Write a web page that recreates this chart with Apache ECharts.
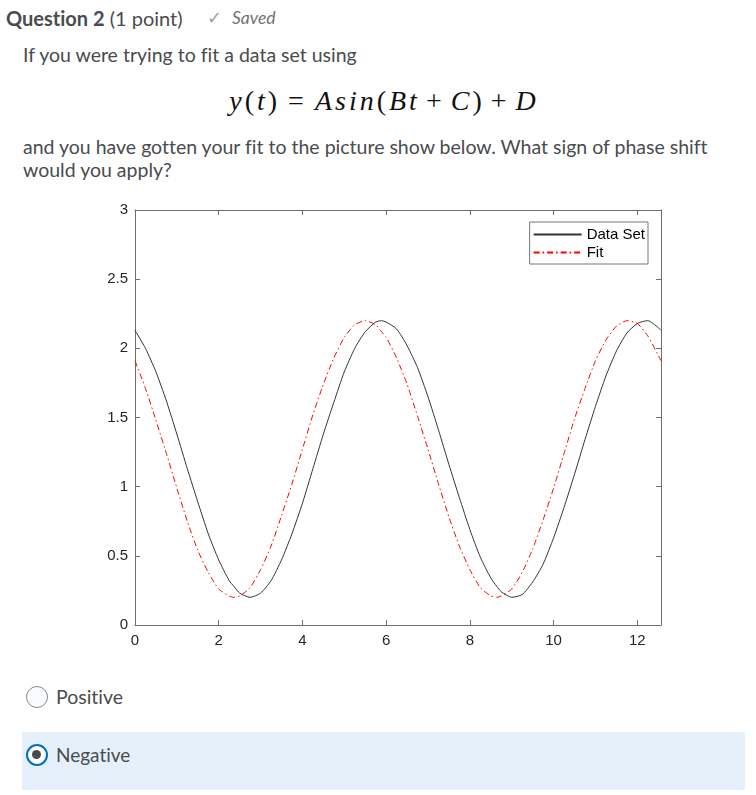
<!DOCTYPE html>
<html>
<head>
<meta charset="utf-8">
<script src="https://cdn.jsdelivr.net/npm/echarts@6/dist/echarts.min.js"></script>
<style>
  html, body { margin: 0; padding: 0; background: #fff; }
  body { width: 756px; height: 795px; position: relative; overflow: hidden; font-family: Lato, "Noto Sans", sans-serif; color: #494c4e; font-variant-ligatures: none; }
  .abs { position: absolute; white-space: nowrap; }
  #title { left: 6px; top: 5px; font-size: 20px; line-height: 26px; color: #494c4e; }
  #title b { font-weight: 700; }
  #saved { left: 207px; top: 7px; font-size: 17.5px; line-height: 22px; color: #6e7376; font-style: italic; }
  #saved .chk { font-style: normal; color: #9ea2a5; margin-right: 10px; }
  #q1 { left: 23px; top: 43px; font-size: 19.5px; line-height: 24px; }
  #eq { left: 0; width: 768px; text-align: center; top: 85px; font-size: 28px; line-height: 32px; font-family: "Liberation Serif", "DejaVu Serif", serif; color: #111; letter-spacing: 3px; }
  #eq i { font-style: italic; }
  #eq .eqop { margin: 0 8px; }
  #eq .plus { margin: 0 6px; }
  #q2 { left: 23px; top: 135px; font-size: 19.5px; line-height: 23px; }
  #chart { position: absolute; left: 60px; top: 190px; width: 640px; height: 480px; }
  .radio { position: absolute; width: 22px; height: 22px; border-radius: 50%; box-sizing: border-box; }
  #r1 { left: 26px; top: 686px; border: 1.5px solid #868a8d; background: #f9fbff; }
  #band { position: absolute; left: 22px; top: 732px; width: 723px; height: 58px; background: #e6f0fb; }
  #r2 { left: 26px; top: 744px; border: 2.5px solid #006fbf; background: #fff; }
  #r2::after { content: ""; position: absolute; left: 4px; top: 4px; width: 9px; height: 9px; border-radius: 50%; background: #494c4e; }
  .opt { font-size: 19.5px; line-height: 24px; color: #494c4e; }
  #o1 { left: 56px; top: 685px; }
  #o2 { left: 56px; top: 743px; font-size: 19px; }
</style>
</head>
<body>
<div id="title" class="abs"><b>Question 2</b> (1 point)</div>
<div id="saved" class="abs"><span class="chk">✓</span>Saved</div>
<div id="q1" class="abs">If you were trying to fit a data set using</div>
<div id="eq" class="abs"><i>y</i>(<i>t</i>)<span class="eqop">=</span><i>Asin</i>(<i>Bt</i><span class="plus">+</span><i>C</i>)<span class="plus">+</span><i>D</i></div>
<div id="q2" class="abs">and you have gotten your fit to the picture show below. What sign of phase shift<br>would you apply?</div>
<div id="chart"></div>
<div class="radio" id="r1"></div>
<div id="o1" class="abs opt">Positive</div>
<div id="band"></div>
<div class="radio" id="r2"></div>
<div id="o2" class="abs opt">Negative</div>
<script>
// sample times (t) read along the x axis
const tValues = [0, 0.25, 0.5, 0.75, 1, 1.25, 1.5, 1.75, 2, 2.25, 2.36, 2.5, 2.75, 3, 3.25, 3.5, 3.75,
  4, 4.25, 4.5, 4.75, 5, 5.25, 5.5, 5.75, 5.89, 6, 6.25, 6.5, 6.75, 7, 7.25, 7.5, 7.75,
  8, 8.25, 8.5, 8.64, 8.75, 9, 9.25, 9.5, 9.75, 10, 10.25, 10.5, 10.75, 11, 11.25, 11.5, 11.75,
  12, 12.25, 12.5, 12.566];
// black solid curve ("Data Set")
const dataSetValues = [2.13, 2.00, 1.83, 1.62, 1.38, 1.13, 0.89, 0.66, 0.47, 0.32, 0.28, 0.23, 0.20, 0.23, 0.32, 0.47, 0.66,
  0.88, 1.13, 1.38, 1.61, 1.83, 2.00, 2.12, 2.19, 2.20, 2.19, 2.14, 2.02, 1.86, 1.65, 1.41, 1.16, 0.92,
  0.69, 0.49, 0.34, 0.28, 0.24, 0.20, 0.22, 0.31, 0.44, 0.63, 0.85, 1.09, 1.34, 1.58, 1.80, 1.98, 2.11,
  2.18, 2.20, 2.15, 2.13];
// red dash-dot curve ("Fit")
const fitValues = [1.91, 1.71, 1.48, 1.24, 0.99, 0.75, 0.54, 0.38, 0.26, 0.21, 0.20, 0.21, 0.27, 0.40, 0.57, 0.79, 1.02,
  1.27, 1.52, 1.74, 1.93, 2.08, 2.17, 2.20, 2.17, 2.12, 2.08, 1.93, 1.74, 1.51, 1.27, 1.02, 0.78, 0.57,
  0.40, 0.27, 0.21, 0.20, 0.21, 0.26, 0.38, 0.55, 0.76, 0.99, 1.24, 1.49, 1.71, 1.91, 2.06, 2.16, 2.20,
  2.18, 2.09, 1.95, 1.91];
const xTicks = [0, 2, 4, 6, 8, 10, 12];
const yTicks = [0, 0.5, 1, 1.5, 2, 2.5, 3];
const seriesNames = ['Data Set', 'Fit'];

const xMax = 12.566;
const axisColor = '#6e6e6e';
const labelFont = { color: '#262626', fontSize: 15, fontFamily: 'Liberation Sans, Arial, sans-serif' };

const chart = echarts.init(document.getElementById('chart'), null, { renderer: 'canvas' });
const xFmt = v => (xTicks.some(t => Math.abs(t - v) < 1e-6) ? String(v) : '');
const yFmt = v => (yTicks.some(t => Math.abs(t - v) < 1e-6) ? String(v) : '');
const frameAxis = (extra) => Object.assign({
  type: 'value',
  axisLine: { show: true, onZero: false, lineStyle: { color: axisColor, width: 1 } },
  axisTick: { show: true, inside: true, length: 5, lineStyle: { color: axisColor } },
  splitLine: { show: false }
}, extra);

chart.setOption({
  animation: false,
  grid: { left: 75, top: 20, width: 526, height: 415, containLabel: false },
  legend: {
    orient: 'vertical',
    right: 52, top: 32,
    data: seriesNames,
    itemWidth: 48, itemHeight: 12, itemGap: 3,
    padding: [5, 3, 4, 3],
    borderColor: '#777777', borderWidth: 1,
    backgroundColor: '#fff',
    itemStyle: { opacity: 0, borderWidth: 0 },
    textStyle: Object.assign({}, labelFont, { color: '#000' })
  },
  xAxis: [
    frameAxis({ min: 0, max: xMax, interval: 2, position: 'bottom',
      axisLabel: Object.assign({ margin: 8, formatter: xFmt }, labelFont) }),
    frameAxis({ min: 0, max: xMax, interval: 2, position: 'top', axisLabel: { show: false } })
  ],
  yAxis: [
    frameAxis({ min: 0, max: 3, interval: 0.5, position: 'left',
      axisLabel: Object.assign({ margin: 7, formatter: yFmt }, labelFont) }),
    frameAxis({ min: 0, max: 3, interval: 0.5, position: 'right', axisLabel: { show: false } })
  ],
  series: [
    { name: seriesNames[0], type: 'line', smooth: 0.2, symbol: 'none',
      data: tValues.map((t, i) => [t, dataSetValues[i]]),
      lineStyle: { color: '#333333', width: 1, type: 'solid' },
      itemStyle: { color: '#333333' } },
    { name: seriesNames[1], type: 'line', smooth: 0.2, symbol: 'none',
      data: tValues.map((t, i) => [t, fitValues[i]]),
      lineStyle: { color: '#ff0000', width: 1, type: [6, 3, 1.5, 3] },
      itemStyle: { color: '#ff0000' } }
  ]
});
</script>
</body>
</html>
